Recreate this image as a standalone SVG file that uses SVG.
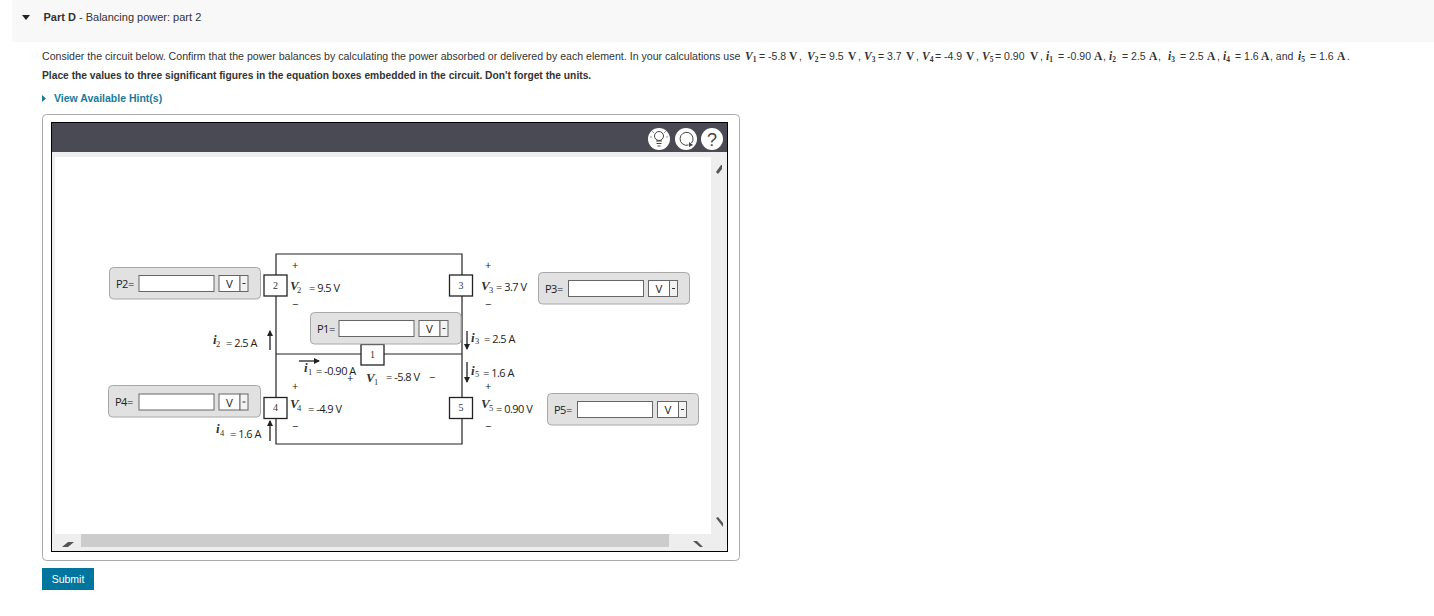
<svg xmlns="http://www.w3.org/2000/svg" width="1434" height="616" viewBox="0 0 1434 616">
<style>
text{font-family:"Liberation Sans",Arial,sans-serif;fill:#333;font-size:10.500px}
.m{font-family:"Liberation Serif","Times New Roman",serif;font-weight:700;font-size:11.500px;fill:#333}
.mi{font-style:italic}
.s{font-size:7.500px}
.c{font-family:"Open Sans","Noto Sans",sans-serif;font-size:11px;fill:#222;letter-spacing:-.5px}
.v{font-family:"Liberation Serif",serif;font-style:italic;font-weight:700;font-size:13px;fill:#333}
.vs{font-family:"Liberation Serif",serif;font-size:8.500px;fill:#333}
.n{font-family:"Liberation Serif",serif;font-size:10px;fill:#333;text-anchor:middle}
.w{fill:none;stroke:#222;stroke-width:1.2}
.b{fill:#fff;stroke:#222;stroke-width:1.3}
.p{fill:#e1e1e1;stroke:#a8a8a8;stroke-width:1}
.i{fill:#fff;stroke:#666;stroke-width:1}
.dd{fill:#f2f2f2;stroke:#666;stroke-width:1}
.a{fill:none;stroke:#222;stroke-width:1.3;marker-end:url(#ah)}
.sc{fill:#555}
</style>
<defs>
<marker id="ah" markerWidth="6" markerHeight="6" refX="5" refY="3" orient="auto" markerUnits="userSpaceOnUse"><path d="M0 0L6 3L0 6Z" fill="#222"/></marker>
<g id="ctl">
<rect class="i" x="0" y="0" width="75" height="16"/>
<rect class="i" x="80" y="0" width="21" height="16"/>
<rect class="dd" x="101" y="0" width="8" height="16"/>
<rect x="103.500" y="7.500" width="3" height="1" fill="#333"/>
<text class="c" x="87" y="12.500" style="font-size:11.500px">V</text>
</g>
</defs>
<rect width="1434" height="616" fill="#fff"/>
<g id="header">
<rect x="12" y="0" width="1422" height="42" fill="#f8f8f8"/>
<path d="M22 15h8l-4 5z" fill="#222"/>
<text x="43.500" y="21" style="font-size:11px"><tspan font-weight="700">Part D</tspan> - Balancing power: part 2</text>
</g>
<g id="problem">
<text x="42" y="60" style="font-size:10.600px">Consider the circuit below. Confirm that the power balances by calculating the power absorbed or delivered by each element. In your calculations use</text>
<text class="m mi" x="745" y="60">V<tspan class="s" dy="2" font-style="normal">1</tspan></text><text x="759" y="60">= -5.8</text><text class="m" x="789" y="60">V</text><text x="799" y="60">,</text>
<text class="m mi" x="807" y="60">V<tspan class="s" dy="2" font-style="normal">2</tspan></text><text x="820" y="60">= 9.5</text><text class="m" x="848" y="60">V</text><text x="858" y="60">,</text>
<text class="m mi" x="864" y="60">V<tspan class="s" dy="2" font-style="normal">3</tspan></text><text x="878" y="60">= 3.7</text><text class="m" x="906" y="60">V</text><text x="916" y="60">,</text>
<text class="m mi" x="922" y="60">V<tspan class="s" dy="2" font-style="normal">4</tspan></text><text x="935" y="60">= -4.9</text><text class="m" x="966" y="60">V</text><text x="976" y="60">,</text>
<text class="m mi" x="982" y="60">V<tspan class="s" dy="2" font-style="normal">5</tspan></text><text x="995" y="60">= 0.90</text><text class="m" x="1030" y="60">V</text><text x="1040" y="60">,</text>
<text class="m mi" x="1046" y="60">i<tspan class="s" dy="2" font-style="normal">1</tspan></text><text x="1058" y="60">= -0.90</text><text class="m" x="1094" y="60">A</text><text x="1103" y="60">,</text>
<text class="m mi" x="1109" y="60">i<tspan class="s" dy="2" font-style="normal">2</tspan></text><text x="1122" y="60">= 2.5</text><text class="m" x="1149" y="60">A</text><text x="1158" y="60">,</text>
<text class="m mi" x="1168" y="60">i<tspan class="s" dy="2" font-style="normal">3</tspan></text><text x="1180" y="60">= 2.5</text><text class="m" x="1207" y="60">A</text><text x="1217" y="60">,</text>
<text class="m mi" x="1223" y="60">i<tspan class="s" dy="2" font-style="normal">4</tspan></text><text x="1235" y="60">= 1.6</text><text class="m" x="1261" y="60">A</text><text x="1270" y="60">, and</text>
<text class="m mi" x="1298" y="60">i<tspan class="s" dy="2" font-style="normal">5</tspan></text><text x="1310" y="60">= 1.6</text><text class="m" x="1337" y="60">A</text><text x="1347" y="60">.</text>
<text x="42" y="79" font-weight="700" style="font-size:10.250px">Place the values to three significant figures in the equation boxes embedded in the circuit. Don't forget the units.</text>
<path d="M42 95l4 3.500l-4 3.500z" fill="#1a7a9a"/>
<text x="54" y="102" font-weight="700" style="fill:#1a7a9a">View Available Hint(s)</text>
</g>
<g id="frame">
<rect x="42.500" y="114.500" width="697" height="446" rx="4" fill="#fff" stroke="#aaa"/>
<rect x="51.500" y="122.500" width="676" height="429" fill="#eee" stroke="#000"/>
<rect x="52" y="123" width="675" height="29" fill="#4a4a55"/>
<rect x="55" y="157" width="656" height="377" fill="#fff"/>
<rect x="81" y="534" width="588" height="13" fill="#ccc"/>
<path class="sc" d="M716 172l5-7l1 0l0 4l-4 5z"/>
<path class="sc" d="M716 518l2-1l5 6l0 4z"/>
<path class="sc" d="M62 547l6-5l6 0l-6 5z"/>
<path class="sc" d="M693 541l4 0l6 6l-3 0z"/>
</g>
<g id="toolbar">
<circle cx="659" cy="139" r="11" fill="#fff"/><circle cx="686" cy="139" r="11" fill="#fff"/><circle cx="712" cy="139" r="11" fill="#fff"/>
<circle cx="659" cy="136" r="4.500" fill="none" stroke="#444"/><path d="M656 141h6M656.500 143.500h5M657.500 146h3" stroke="#444" fill="none"/><path d="M652 131l2 2M666 131l-2 2M650 137h2M666 137h2" stroke="#999" fill="none"/>
<path d="M691.500 143a6.500 6.500 0 1 0-3 2" fill="none" stroke="#444"/><path d="M689 142l4 3l-4 2z" fill="#444"/>
<text x="712" y="146" text-anchor="middle" style="font-size:18px;fill:#444">?</text>
</g>
<g id="connectors">
<path class="w" d="M276 275V254H462V275M276 296V398M276 418V444H462V418M462 296V397M276 354H361M384 354H462"/>
<path class="a" d="M270 350V331"/>
<path class="a" d="M270 441V421"/>
<path class="a" d="M299 361H319"/>
<path class="a" d="M467 331V349"/>
<path class="a" d="M467 362V382"/>
</g>
<g id="n1"><rect class="b" x="361" y="344.500" width="23" height="20.500"/><text class="n" x="372.500" y="358">1</text></g>
<g id="n2"><rect class="b" x="264" y="275" width="23" height="21"/><text class="n" x="275.500" y="289">2</text></g>
<g id="n3"><rect class="b" x="449.500" y="275" width="23" height="21"/><text class="n" x="461" y="289">3</text></g>
<g id="n4"><rect class="b" x="264" y="397.500" width="23" height="21"/><text class="n" x="275.500" y="411">4</text></g>
<g id="n5"><rect class="b" x="449.500" y="397.500" width="23" height="21"/><text class="n" x="461" y="411">5</text></g>
<g id="labels">
<text class="c" x="292" y="269">+</text><text class="c" x="292" y="308">−</text>
<text class="v" x="290" y="290">V</text><text class="vs" x="297" y="293">2</text><text class="c" x="309" y="292">= 9.5 V</text>
<text class="v" x="213" y="344">i</text><text class="vs" x="216" y="347">2</text><text class="c" x="226" y="347">= 2.5 A</text>
<text class="v" x="304" y="372">i</text><text class="vs" x="308" y="375">1</text><text class="c" x="316" y="375">= -0.90 A</text>
<text class="c" x="347" y="382">+</text>
<text class="v" x="366" y="382">V</text><text class="vs" x="374" y="385">1</text><text class="c" x="386" y="381">= -5.8 V</text><text class="c" x="429" y="381">−</text>
<text class="c" x="292" y="390">+</text><text class="c" x="292" y="430">−</text>
<text class="v" x="290" y="408">V</text><text class="vs" x="297" y="411">4</text><text class="c" x="308" y="413">= -4.9 V</text>
<text class="v" x="216" y="433">i</text><text class="vs" x="220" y="436">4</text><text class="c" x="230" y="438">= 1.6 A</text>
<text class="c" x="485" y="269">+</text><text class="c" x="485" y="308">−</text>
<text class="v" x="481" y="290">V</text><text class="vs" x="489" y="293">3</text><text class="c" x="496" y="291">= 3.7 V</text>
<text class="v" x="471" y="342">i</text><text class="vs" x="475" y="344">3</text><text class="c" x="484" y="343">= 2.5 A</text>
<text class="v" x="471" y="375">i</text><text class="vs" x="475" y="377">5</text><text class="c" x="483" y="377">= 1.6 A</text>
<text class="c" x="485" y="390">+</text><text class="c" x="485" y="430">−</text>
<text class="v" x="481" y="408">V</text><text class="vs" x="489" y="411">5</text><text class="c" x="496" y="413">= 0.90 V</text>
</g>
<g id="P1"><rect class="p" x="310.500" y="312.500" width="150.500" height="31.500" rx="4"/><text class="c" x="317" y="333">P1=</text><use href="#ctl" x="339" y="320.500"/></g>
<g id="P2"><rect class="p" x="109.500" y="267.500" width="151" height="31.500" rx="4"/><text class="c" x="116" y="288">P2=</text><use href="#ctl" x="139" y="275.500"/></g>
<g id="P3"><rect class="p" x="538.500" y="272.500" width="151" height="31.500" rx="4"/><text class="c" x="545" y="293">P3=</text><use href="#ctl" x="568.500" y="280.500"/></g>
<g id="P4"><rect class="p" x="108.500" y="385.500" width="152" height="31.500" rx="4"/><text class="c" x="115" y="406">P4=</text><use href="#ctl" x="139" y="394"/></g>
<g id="P5"><rect class="p" x="547.500" y="393.500" width="151" height="31.500" rx="4"/><text class="c" x="554" y="414">P5=</text><use href="#ctl" x="577.500" y="401.500"/></g>
<g id="submit"><rect x="42" y="568" width="52" height="22" fill="#00769e"/><text x="68" y="583" text-anchor="middle" style="fill:#fff;font-size:10.500px">Submit</text></g>
</svg>
